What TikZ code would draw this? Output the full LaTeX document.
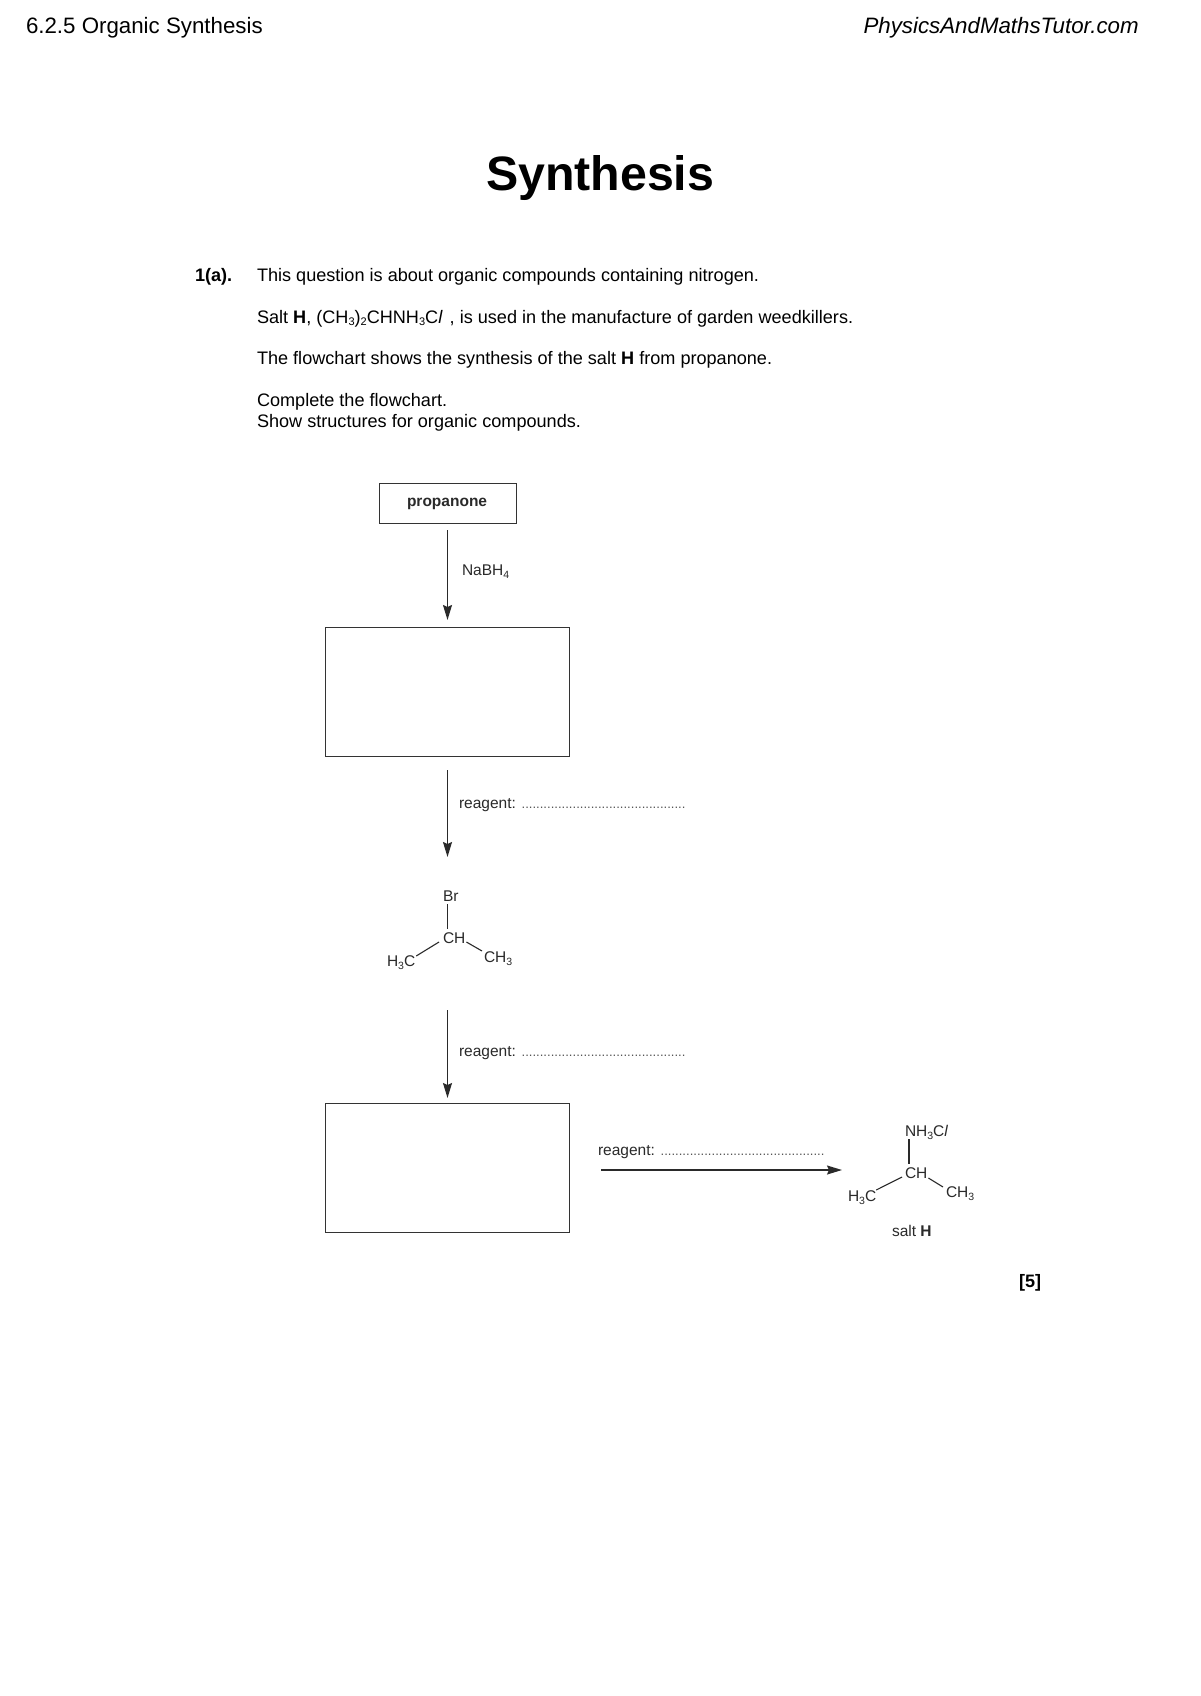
\documentclass[tikz,border=0pt]{standalone}
\usepackage{fontspec}
\setmainfont{Liberation Sans}
\usetikzlibrary{arrows.meta,calc}
\newcommand{\fs}[1]{\fontsize{#1}{#1}\selectfont}
\newcommand{\ssub}[1]{\raisebox{-2pt}{\fs{11}#1}}
\newcommand{\lsub}[1]{\raisebox{-3.5pt}{\fs{10.5}#1}}
\newcommand{\dotrun}{\fs{13.1}\textcolor{dotgray}{.............................................}}
\definecolor{figink}{HTML}{2A2A2A}
\definecolor{boxink}{HTML}{333333}
\definecolor{dotgray}{HTML}{555555}
\tikzset{
  txt/.style={anchor=base west,inner sep=0pt,outer sep=0pt,text=black},
  body/.style={txt,font=\fs{18.1}},
  lab/.style={txt,text=figink,font=\fs{15.5}},
  boxa/.style={draw=boxink,line width=1pt,fill=white,inner sep=0pt,outer sep=0pt},
  arrowa/.style={draw=figink,line width=1.3pt,-{Stealth[length=15pt,width=9pt,inset=2pt]}},
  bond/.style={draw=figink,line width=1.1pt},
}
\begin{document}
\begin{tikzpicture}[x=1pt,y=-1pt]
\useasboundingbox[fill=white] (0,0) rectangle (1200,1696);
% header and title
\node[txt,font=\fs{22.3}] (head) at (26,33.5) {6.2.5 Organic Synthesis};
\node[txt,font=\fs{22.3}\itshape] (site) at (863.5,33.5) {PhysicsAndMathsTutor.com};
\node[txt,font=\fs{48.3}\bfseries] (title) at (486,191) {Synthesis};
% question text
\node[body,font=\fs{18.1}\bfseries] (qno) at (195,281) {1(a).};
\node[body] (q1) at (257,281) {This question is about organic compounds containing nitrogen.};
\node[body] (q2) at (257,323) {Salt \textbf{H}, (CH\ssub{3})\ssub{2}CHNH\ssub{3}C\textit{l}\kern2pt{} , is used in the manufacture of garden weedkillers.};
\node[body] (q3) at (257,364) {The flowchart shows the synthesis of the salt \textbf{H} from propanone.};
\node[body] (q4) at (257,406) {Complete the flowchart.};
\node[body] (q5) at (257,427) {Show structures for organic compounds.};
% boxes
\node[boxa,minimum width=137pt,minimum height=40pt] (prop) at (447.5,503) {};
\node[txt,text=figink,font=\fs{15.5}\bfseries] (proplab) at (407,506) {propanone};
\node[boxa,minimum width=244.5pt,minimum height=129pt] (boxb) at (447.5,691.5) {};
\node[boxa,minimum width=244.5pt,minimum height=129pt] (boxc) at (447.5,1167.5) {};
% flow labels
\node[lab] (nabh) at (462,575) {NaBH\lsub{4}};
\node[lab] (rg1) at (459,808) {reagent: \dotrun};
\node[lab] (rg2) at (459,1056) {reagent: \dotrun};
\node[lab] (rg3) at (598,1155) {reagent: \dotrun};
% bromo compound
\node[lab] (br) at (443,901) {Br};
\node[lab] (cha) at (443,943) {CH};
\node[lab] (hca) at (387,966) {H\lsub{3}C};
\node[lab] (cma) at (484,962) {CH\lsub{3}};
% salt H
\node[lab] (nh) at (905,1136) {NH\lsub{3}C\textit{l}};
\node[lab] (chb) at (905,1178) {CH};
\node[lab] (hcb) at (848,1201) {H\lsub{3}C};
\node[lab] (cmb) at (946,1197) {CH\lsub{3}};
\node[lab] (salt) at (892,1236) {salt \textbf{H}};
\node[txt,font=\fs{18}\bfseries] (mark) at (1019,1287) {[5]};
% connector ends
\coordinate (a2e) at (447.5,857);
\coordinate (a3s) at (447.5,1010);
\coordinate (hs) at (601,1170);
\coordinate (he) at (842,1170);
% arrows
\draw[arrowa,shorten <=7pt,shorten >=7pt] (prop.south) -- (boxb.north);
\draw[arrowa,shorten <=14pt] (boxb.south) -- (a2e);
\draw[arrowa,shorten >=5pt] (a3s) -- (boxc.north);
\draw[arrowa] (hs) -- (he);
% bonds
\draw[bond] ($(br.base west)+(4.5,3)$) -- ($(cha.base west)+(4.5,-14)$);
\draw[bond] ($(hca.base east)+(1,-10)$) -- ($(cha.base west)+(-4,-1)$);
\draw[bond] ($(cha.base east)+(1,-1)$) -- ($(cma.base west)+(-2,-11)$);
\draw[bond] ($(nh.base west)+(4,3)$) -- ($(chb.base west)+(4,-14)$);
\draw[bond] ($(hcb.base east)+(0,-11)$) -- ($(chb.base west)+(-3,-1)$);
\draw[bond] ($(chb.base east)+(1,0)$) -- ($(cmb.base west)+(-3,-10)$);
\end{tikzpicture}
\end{document}
